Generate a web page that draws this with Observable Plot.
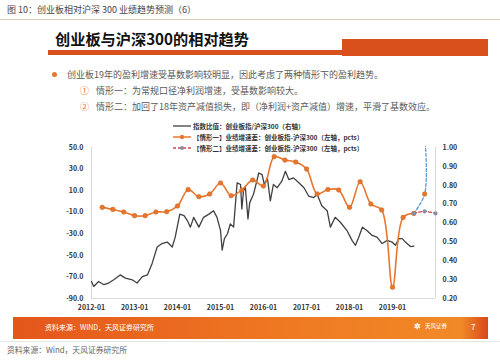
<!DOCTYPE html>
<html><head><meta charset="utf-8">
<script src="https://cdn.jsdelivr.net/npm/d3@7"></script>
<script src="https://cdn.jsdelivr.net/npm/@observablehq/plot@0.6"></script>
<style>
body{margin:0;width:500px;height:360px;overflow:hidden;background:#fff;font-family:"Noto Sans CJK SC","Noto Sans",sans-serif;position:relative}
.abs{position:absolute;white-space:nowrap;line-height:1}
#chart{position:absolute;left:0;top:120px}
.lg{position:absolute;left:173px;display:flex;align-items:center;font-size:6.5px;font-weight:bold;color:#333;white-space:nowrap;line-height:1}
.lg svg{margin-right:2px}
</style></head><body>
<div class="abs" style="left:7px;top:5px;font-size:9px;color:#444;">图 10：创业板相对沪深 300 业绩趋势预测（6）</div>
<div class="abs" style="left:0;top:19px;width:500px;height:1px;background:#dcd0bc"></div>
<div class="abs" style="left:55px;top:31px;font-size:15.2px;font-weight:bold;color:#111;">创业板与沪深300的相对趋势</div>
<div class="abs" style="left:48px;top:50px;width:294px;height:5px;background:#d9501c"></div>
<div class="abs" style="left:342px;top:39px;width:146px;height:17px;background:#d9501c"></div>
<div class="abs" style="left:52px;top:72px;width:5px;height:5px;border-radius:50%;background:#e8772e"></div>
<div class="abs" style="left:67px;top:70px;font-size:9px;color:#5a5a5a;">创业板19年的盈利增速受基数影响较明显，因此考虑了两种情形下的盈利趋势。</div>
<div class="abs" style="left:80px;top:86px;font-size:9px;color:#e8772e;">①</div>
<div class="abs" style="left:96px;top:86px;font-size:9px;color:#5a5a5a;">情形一：为常规口径净利润增速，受基数影响较大。</div>
<div class="abs" style="left:80px;top:102px;font-size:9px;color:#e8772e;">②</div>
<div class="abs" style="left:96px;top:102px;font-size:9px;color:#5a5a5a;">情形二：加回了18年资产减值损失，即（净利润+资产减值）增速，平滑了基数效应。</div>
<div id="chart"></div>
<div class="lg" style="top:123px"><svg width="18" height="6"><line x1="0" y1="3" x2="18" y2="3" stroke="#404040" stroke-width="1.3"/></svg>指数比值：创业板指/沪深300（右轴）</div>
<div class="lg" style="top:134px"><svg width="18" height="6"><line x1="0" y1="3" x2="18" y2="3" stroke="#e8772e" stroke-width="1.5"/><circle cx="9" cy="3" r="2.2" fill="#e8772e"/></svg>【情形一】业绩增速差：创业板指-沪深300（左轴，pcts）</div>
<div class="lg" style="top:145px"><svg width="18" height="6"><line x1="0" y1="3" x2="18" y2="3" stroke="#d0454c" stroke-width="1.3" stroke-dasharray="3,2"/><circle cx="9" cy="3" r="2" fill="#8a8fa8"/></svg>【情形二】业绩增速差：创业板指-沪深300（左轴，pcts）</div>
<div class="abs" style="left:13px;top:317px;width:475px;height:22px;background:linear-gradient(90deg,#e4561c,#ef7a22 60%,#f28c28)"></div>
<div class="abs" style="left:461px;top:317px;width:27px;height:22px;background:linear-gradient(90deg,#f08a28,#d9481a)"></div>
<div class="abs" style="left:45px;top:324px;font-size:7px;color:#fff;">资料来源：WIND，天风证券研究所</div>
<div class="abs" style="left:414px;top:322px;font-size:8px;color:#fff;font-weight:bold;">✲</div>
<div class="abs" style="left:425px;top:324px;font-size:5.5px;color:#fff;">天风证券</div>
<div class="abs" style="left:471px;top:323px;font-size:8px;color:#fff;">7</div>
<div class="abs" style="left:0;top:341px;width:500px;height:1px;background:#e6e6e6"></div>
<div class="abs" style="left:7px;top:346px;font-size:7.8px;color:#666;">资料来源：Wind，天风证券研究所</div>
<script>
// 情形一 quarterly growth gap (left axis, pcts)
const s1Dates = ["2012-04","2012-07","2012-10","2013-01","2013-04","2013-07","2013-10","2014-01","2014-04","2014-07","2014-10","2015-01","2015-04","2015-07","2015-10","2016-01","2016-04","2016-07","2016-10","2017-01","2017-04","2017-07","2017-10","2018-01","2018-04","2018-07","2018-10","2019-01","2019-04","2019-07"];
const s1Values = [-5.5,-7.4,-9.8,-13.2,-13.2,-9.8,-9.5,-4.2,10.9,4.4,6.9,17.1,5.3,10.6,19.8,14.3,41.5,38.3,36.5,30.0,6.9,11.1,10.6,-5.5,18.3,-2.4,-7.9,-79.5,-14.8,-11.1];
// 情形一 forecast (blue dashed)
const s1fDates = ["2019-07","2019-10","2019-10-08"];
const s1fValues = [-11.1, 6.9, 51];
// 情形二 forecast (red dashed)
const s2Dates = ["2019-07","2019-10","2020-01"];
const s2Values = [-11.1, -9.2, -11.1];
// 指数比值 创业板指/沪深300 (right axis)
const ratioDates = ["2012-01-01","2012-01-20","2012-03-01","2012-04-15","2012-05-25","2012-07-08","2012-09-01","2012-10-15","2012-12-12","2013-01-22","2013-03-08","2013-04-20","2013-05-30","2013-07-12","2013-08-22","2013-10-05","2013-11-17","2013-12-12","2014-01-20","2014-02-25","2014-03-25","2014-04-20","2014-05-18","2014-07-01","2014-08-10","2014-09-25","2014-11-03","2014-12-02","2015-01-01","2015-01-15","2015-02-03","2015-03-01","2015-03-25","2015-04-22","2015-05-22","2015-06-20","2015-07-01","2015-07-15","2015-07-30","2015-08-22","2015-09-06","2015-10-08","2015-11-22","2015-12-20","2016-01-08","2016-02-03","2016-02-28","2016-03-25","2016-04-26","2016-06-05","2016-07-05","2016-08-03","2016-09-12","2016-10-27","2016-12-10","2017-01-18","2017-03-03","2017-04-01","2017-05-10","2017-06-25","2017-07-22","2017-09-01","2017-10-15","2017-12-10","2018-01-22","2018-02-20","2018-03-20","2018-04-20","2018-05-28","2018-07-12","2018-08-22","2018-10-05","2018-11-17","2018-12-28","2019-01-25","2019-02-25","2019-03-25","2019-04-20","2019-06-02","2019-07-01"];
const ratioValues = [0.290,0.264,0.290,0.273,0.282,0.299,0.325,0.308,0.299,0.282,0.316,0.325,0.386,0.473,0.491,0.499,0.473,0.525,0.647,0.639,0.613,0.578,0.630,0.578,0.630,0.647,0.665,0.630,0.560,0.456,0.517,0.543,0.595,0.578,0.813,0.804,0.674,0.769,0.795,0.621,0.708,0.752,0.865,0.856,0.804,0.839,0.717,0.804,0.787,0.822,0.874,0.830,0.839,0.813,0.787,0.743,0.735,0.752,0.691,0.665,0.578,0.630,0.604,0.560,0.508,0.482,0.525,0.578,0.560,0.534,0.525,0.491,0.508,0.499,0.482,0.517,0.517,0.499,0.475,0.478];
const leftTicks = [50,30,10,-10,-30,-50,-70,-90];
const rightTicks = [1.0,0.9,0.8,0.7,0.6,0.5,0.4,0.3,0.2];
const xTicks = ["2012-01","2013-01","2014-01","2015-01","2016-01","2017-01","2018-01","2019-01"];

const L0=-90, L1=50, R0=0.2, R1=1.0;
const toLeft = r => L0 + (r - R0) / (R1 - R0) * (L1 - L0);
const fromLeft = v => R0 + (v - L0) / (L1 - L0) * (R1 - R0);
const pd = s => new Date(s.length === 7 ? s + "-01" : s);

const s1 = s1Dates.map((d,i)=>({date:pd(d), v:s1Values[i]}));
const s1f = s1fDates.map((d,i)=>({date:pd(d), v:s1fValues[i]}));
const s2 = s2Dates.map((d,i)=>({date:pd(d), v:s2Values[i]}));
const ratio = ratioDates.map((d,i)=>({date:pd(d), v:toLeft(ratioValues[i])}));

const orange = "#e8772e";
const chart = Plot.plot({
  width: 500, height: 200,
  marginLeft: 91, marginRight: 65, marginTop: 27, marginBottom: 22,
  style: {fontFamily: "'Noto Sans CJK SC', sans-serif", fontSize: "7px", fontWeight: "bold", color: "#333", background: "transparent", overflow: "visible"},
  x: {type: "utc", domain: [pd("2012-01"), pd("2020-01")], label: null},
  y: {domain: [L0, L1], label: null},
  marks: [
    Plot.ruleX([pd("2012-01"), pd("2020-01")], {stroke: "#d9d9d9"}),
    Plot.ruleY([L0], {stroke: "#d9d9d9"}),
    Plot.axisX(xTicks.map(pd), {tickFormat: d3.utcFormat("%Y-%m"), tickSize: 0, tickPadding: 7, label: null}),
    Plot.axisY(leftTicks, {tickFormat: d => d.toFixed(1), tickSize: 0, tickPadding: 8, label: null}),
    Plot.axisY(rightTicks.map(toLeft), {anchor: "right", tickFormat: v => fromLeft(v).toFixed(2), tickSize: 0, tickPadding: 7, label: null}),
    Plot.line(ratio, {x: "date", y: "v", stroke: "#404040", strokeWidth: 1.3}),
    Plot.line(s1f, {x: "date", y: "v", stroke: "#5b9bd5", strokeWidth: 1.3, strokeDasharray: "3,2", curve: "catmull-rom"}),
    Plot.line(s2, {x: "date", y: "v", stroke: "#d0454c", strokeWidth: 1.3, strokeDasharray: "3,2", curve: "catmull-rom"}),
    Plot.line(s1, {x: "date", y: "v", stroke: orange, strokeWidth: 1.6, curve: "catmull-rom"}),
    Plot.dot(s1, {x: "date", y: "v", r: 2.3, fill: orange, stroke: "#c95f1c", strokeWidth: 0.5}),
    Plot.dot(s1f.slice(1,2), {x: "date", y: "v", r: 2.3, fill: orange, stroke: "#c95f1c", strokeWidth: 0.5}),
    Plot.dot(s2, {x: "date", y: "v", r: 2.1, fill: "#8a8fa8"})
  ]
});
document.getElementById("chart").appendChild(chart);
</script>
</body></html>
